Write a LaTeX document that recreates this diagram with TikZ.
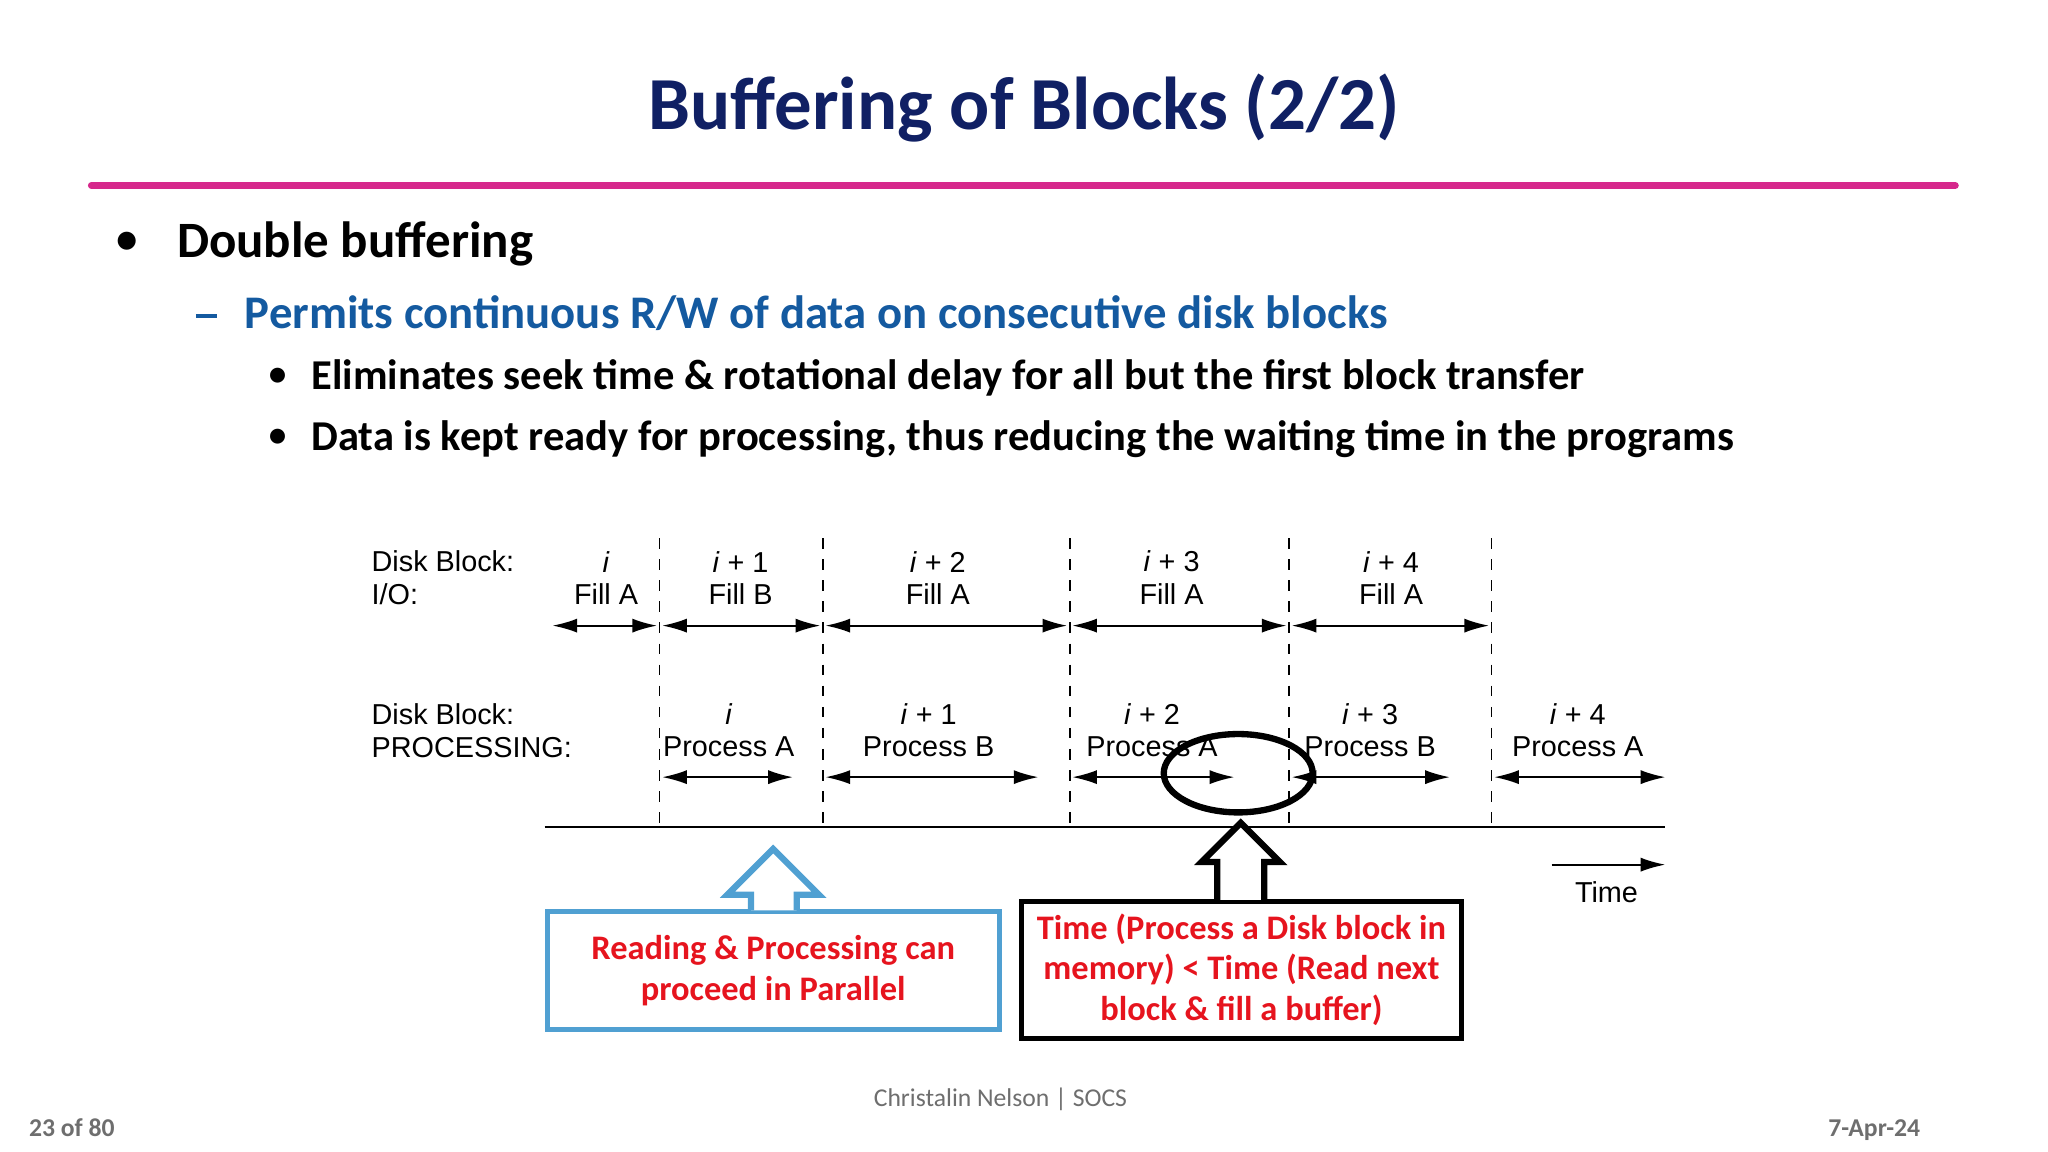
\documentclass[tikz,border=0pt]{standalone}
\usepackage{fontspec}
\setmainfont{Carlito}
\newfontfamily\diagfont{Liberation Sans}
\usetikzlibrary{arrows.meta,positioning}
\definecolor{titleblue}{RGB}{16,32,100}
\definecolor{subblue}{RGB}{20,90,160}
\definecolor{boxblue}{RGB}{80,160,210}
\definecolor{barpink}{RGB}{214,40,140}
\definecolor{alertred}{RGB}{230,20,30}
\definecolor{footgray}{RGB}{110,110,110}
\tikzset{
  lbl/.style={font=\diagfont\fontsize{8.2}{9}\selectfont,inner sep=0pt},
  span/.style={{Latex[length=7pt,width=4pt]}-{Latex[length=7pt,width=4pt]},line width=0.5pt},
  sep/.style={dashed,line width=0.5pt},
  note/.style={font=\bfseries\fontsize{9.8}{11.5}\selectfont,text=alertred,align=center,inner sep=0pt},
  foot/.style={font=\fontsize{7.3}{9}\selectfont,text=footgray}
}
\begin{document}
\begin{tikzpicture}[x=0.01306cm,y=-0.01306cm]
\useasboundingbox (0,0) rectangle (1568,882);
% title
\node[font=\bfseries\fontsize{21.3}{25}\selectfont,text=titleblue] (title) at (784,83) {Buffering of Blocks (2/2)};
\draw[barpink,line width=2pt,line cap=round] (70,142) -- (1497,142);
% bullets
\node[font=\fontsize{14.5}{17}\selectfont] (b1) at (97,187) {\textbullet};
\node[anchor=west,inner sep=0pt,font=\bfseries\fontsize{14.5}{17}\selectfont] (t1) at (135,187) {Double buffering};
\node[inner sep=0pt,text=subblue] (d2) at (158,242) {\rule{6pt}{1.1pt}};
\node[anchor=west,inner sep=0pt,font=\bfseries\fontsize{13.3}{16}\selectfont,text=subblue] (t2) at (187,240) {Permits continuous R/W of data on consecutive disk blocks};
\node[font=\fontsize{12}{14}\selectfont] (b3) at (213,289) {\textbullet};
\node[anchor=west,inner sep=0pt,font=\bfseries\fontsize{12.1}{14}\selectfont] (t3) at (238,289) {Eliminates seek time \& rotational delay for all but the first block transfer};
\node[font=\fontsize{12}{14}\selectfont] (b4) at (213,336) {\textbullet};
\node[anchor=west,inner sep=0pt,font=\bfseries\fontsize{12.1}{14}\selectfont] (t4) at (238,336) {Data is kept ready for processing, thus reducing the waiting time in the programs};
% diagram labels
\node[lbl,anchor=west] (dbio) at (284,430) {Disk Block:};
\node[lbl,anchor=west] (io) at (284,455) {I/O:};
\node[lbl,anchor=west] (dbpr) at (284,547) {Disk Block:};
\node[lbl,anchor=west] (pr) at (284,572) {PROCESSING:};
% separators
\foreach \x in {505,630,819,987,1142}
  \draw[sep] (\x,412) -- (\x,630);
% I/O row
\foreach \a/\b/\c/\n/\f in {423/503/464/\textit{i}/Fill A,507/628/567/\textit{i}\ +\ 1/Fill B,632/817/718/\textit{i}\ +\ 2/Fill A,821/985/897/\textit{i}\ +\ 3/Fill A,989/1140/1065/\textit{i}\ +\ 4/Fill A}{
  \node[lbl] at (\c,430) {\n};
  \node[lbl] at (\c,455) {\f};
  \draw[span] (\a,479) -- (\b,479);
}
% processing row
\foreach \a/\b/\c/\n/\f in {507/607/558/\textit{i}/Process A,632/795/711/\textit{i}\ +\ 1/Process B,821/945/882/\textit{i}\ +\ 2/Process A,989/1110/1049/\textit{i}\ +\ 3/Process B,1144/1275/1208/\textit{i}\ +\ 4/Process A}{
  \node[lbl] at (\c,547) {\n};
  \node[lbl] at (\c,572) {\f};
  \draw[span] (\a,595) -- (\b,595);
}
% time axis
\coordinate (axl) at (417,633);
\coordinate (axr) at (1275,633);
\draw[line width=0.6pt] (axl) -- (axr);
\coordinate (ts) at (1188,662);
\coordinate (te) at (1275,662);
\draw[-{Latex[length=7pt,width=4pt]},line width=0.5pt] (ts) -- (te);
\node[lbl] (time) at (1230,683) {Time};
% highlight
\draw[line width=1.8pt] (948,592) ellipse [x radius=57,y radius=30];
% boxes
\draw[boxblue,line width=1.5pt] (419,698) rectangle (765,788);
\node[note] (par) at (592,743) {Reading \& Processing can\\proceed in Parallel};
\draw[line width=1.5pt] (782,690) rectangle (1119,795);
\node[note] (cmp) at (950.5,742.5) {Time (Process a Disk block in\\memory) < Time (Read next\\block \& fill a buffer)};
% hollow arrows
\draw[boxblue,line width=1.8pt,fill=white] (575,697) -- (575,685) -- (557,685) -- (592,650) -- (627,685) -- (610,685) -- (610,697);
\draw[line width=1.8pt,fill=white] (932,689) -- (932,660) -- (920,660) -- (950,630) -- (980,660) -- (968,660) -- (968,689);
% footer
\node[foot] (footer) at (766,842) {Christalin Nelson | SOCS};
\node[foot,font=\bfseries\fontsize{7.3}{9}\selectfont] (page) at (55,863) {23 of 80};
\node[foot,font=\bfseries\fontsize{7.3}{9}\selectfont] (date) at (1435,865) {7-Apr-24};
\end{tikzpicture}
\end{document}
